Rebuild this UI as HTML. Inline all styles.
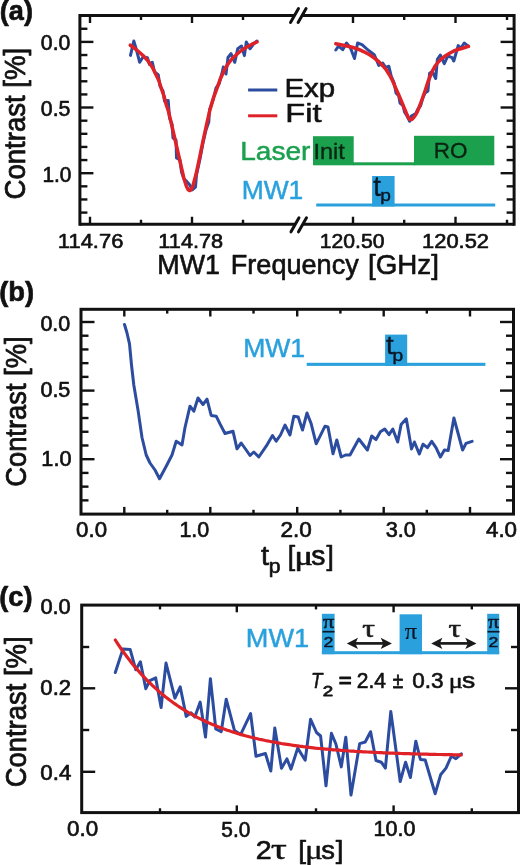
<!DOCTYPE html>
<html><head><meta charset="utf-8"><title>figure</title>
<style>html,body{margin:0;padding:0;background:#fff}svg{display:block;filter:blur(0.4px)}</style></head>
<body>
<svg width="520" height="865" viewBox="0 0 520 865">
<rect width="520" height="865" fill="#fff"/>
<polyline points="130.5,55.4 133.8,41.0 136.5,50.0 139.7,62.3 143.0,57.0 147.4,57.7 149.5,64.5 152.3,62.3 154.6,72.0 158.2,74.6 160.0,86.0 163.0,91.0 164.5,101.0 168.2,100.4 169.5,118.0 172.0,124.0 173.0,138.0 176.0,140.0 176.5,158.0 180.0,160.0 181.5,172.0 184.0,179.0 186.3,181.0 189.8,185.0 192.0,190.0 195.5,187.0 196.5,175.0 199.8,160.0 203.0,143.0 206.0,130.0 208.8,122.0 209.5,110.0 213.0,100.0 216.0,88.0 219.0,84.0 222.3,72.0 223.3,67.0 226.0,74.0 228.0,57.5 231.0,53.7 234.8,62.3 237.7,48.8 241.5,46.0 244.4,55.6 246.3,42.0 250.0,48.8 253.5,44.0 257.0,41.0" fill="none" stroke="#2c4ca0" stroke-width="3.0" stroke-linejoin="round" stroke-linecap="round"/>
<polyline points="130.3,45.2 134.0,47.8 138.5,51.5 143.0,55.5 147.7,60.5 152.5,67.5 155.4,73.5 158.8,80.5 161.5,89.0 163.8,95.5 166.2,104.5 168.5,111.5 171.6,124.6 176.0,143.7 180.3,162.7 183.7,177.5 186.3,186.0 188.0,189.5 189.5,190.6 191.0,189.8 192.9,186.0 195.9,174.8 199.3,159.2 202.8,141.9 206.2,126.3 209.7,110.8 213.2,98.7 216.6,89.5 220.4,78.7 225.0,68.7 228.0,64.0 232.0,58.8 237.7,53.5 242.0,50.0 247.3,46.8 252.0,44.2 257.0,42.0" fill="none" stroke="#de2228" stroke-width="3.5" stroke-linejoin="round" stroke-linecap="round"/>
<polyline points="335.8,50.0 338.5,46.2 342.7,49.7 346.5,43.0 350.4,47.7 354.5,58.5 357.6,43.0 362.0,44.6 368.0,50.0 374.2,54.6 378.8,65.4 382.7,63.0 385.8,67.7 388.8,66.2 391.2,76.2 394.2,83.0 396.0,93.0 398.8,96.0 400.0,103.0 403.0,105.5 404.5,112.0 407.0,116.0 409.7,121.2 411.4,116.0 415.8,113.5 418.0,109.0 420.5,106.0 422.5,99.0 425.0,93.0 427.9,91.0 429.6,73.3 432.2,71.5 435.7,78.5 437.4,59.4 440.3,55.0 444.3,63.7 447.8,56.0 452.1,57.7 453.8,61.0 458.2,45.6 460.8,48.2 464.2,43.0 468.5,46.4" fill="none" stroke="#2c4ca0" stroke-width="3.0" stroke-linejoin="round" stroke-linecap="round"/>
<polyline points="335.8,43.8 342.0,45.0 348.0,46.2 353.0,47.5 358.8,49.4 364.0,51.8 369.6,54.8 374.0,57.8 378.8,61.7 383.0,66.0 386.5,70.2 389.5,75.0 392.7,81.0 395.4,87.5 398.8,95.0 401.5,101.5 404.0,107.5 406.5,113.5 408.5,117.8 410.0,119.6 411.8,119.4 413.5,117.8 415.5,115.0 417.5,111.3 420.0,105.0 422.7,97.5 425.5,89.5 427.9,82.0 430.5,75.5 433.0,69.8 435.5,65.5 438.3,62.0 441.5,58.8 445.2,56.0 449.2,53.5 453.8,51.0 458.0,49.5 462.5,48.2 468.5,46.4" fill="none" stroke="#de2228" stroke-width="3.5" stroke-linejoin="round" stroke-linecap="round"/>
<line x1="79.90" y1="14.00" x2="79.90" y2="225.75" stroke="#111" stroke-width="3.0" stroke-linecap="butt"/>
<line x1="514.10" y1="14.00" x2="514.10" y2="225.75" stroke="#111" stroke-width="3.0" stroke-linecap="butt"/>
<line x1="79.90" y1="15.50" x2="294.50" y2="15.50" stroke="#111" stroke-width="3.0" stroke-linecap="butt"/>
<line x1="302.10" y1="15.50" x2="514.10" y2="15.50" stroke="#111" stroke-width="3.0" stroke-linecap="butt"/>
<line x1="290.50" y1="22.50" x2="298.50" y2="8.50" stroke="#111" stroke-width="3.0" stroke-linecap="round"/>
<line x1="298.10" y1="22.50" x2="306.10" y2="8.50" stroke="#111" stroke-width="3.0" stroke-linecap="round"/>
<line x1="79.90" y1="224.25" x2="295.00" y2="224.25" stroke="#111" stroke-width="3.0" stroke-linecap="butt"/>
<line x1="302.50" y1="224.25" x2="514.10" y2="224.25" stroke="#111" stroke-width="3.0" stroke-linecap="butt"/>
<line x1="291.00" y1="231.85" x2="299.00" y2="217.85" stroke="#111" stroke-width="3.0" stroke-linecap="round"/>
<line x1="298.50" y1="231.85" x2="306.50" y2="217.85" stroke="#111" stroke-width="3.0" stroke-linecap="round"/>
<line x1="90.00" y1="15.50" x2="90.00" y2="23.00" stroke="#111" stroke-width="2.4" stroke-linecap="butt"/>
<line x1="90.00" y1="224.25" x2="90.00" y2="216.75" stroke="#111" stroke-width="2.4" stroke-linecap="butt"/>
<line x1="192.00" y1="15.50" x2="192.00" y2="23.00" stroke="#111" stroke-width="2.4" stroke-linecap="butt"/>
<line x1="192.00" y1="224.25" x2="192.00" y2="216.75" stroke="#111" stroke-width="2.4" stroke-linecap="butt"/>
<line x1="353.00" y1="15.50" x2="353.00" y2="23.00" stroke="#111" stroke-width="2.4" stroke-linecap="butt"/>
<line x1="353.00" y1="224.25" x2="353.00" y2="216.75" stroke="#111" stroke-width="2.4" stroke-linecap="butt"/>
<line x1="455.50" y1="15.50" x2="455.50" y2="23.00" stroke="#111" stroke-width="2.4" stroke-linecap="butt"/>
<line x1="455.50" y1="224.25" x2="455.50" y2="216.75" stroke="#111" stroke-width="2.4" stroke-linecap="butt"/>
<line x1="141.00" y1="15.50" x2="141.00" y2="20.00" stroke="#111" stroke-width="2.4" stroke-linecap="butt"/>
<line x1="141.00" y1="224.25" x2="141.00" y2="219.75" stroke="#111" stroke-width="2.4" stroke-linecap="butt"/>
<line x1="243.00" y1="15.50" x2="243.00" y2="20.00" stroke="#111" stroke-width="2.4" stroke-linecap="butt"/>
<line x1="243.00" y1="224.25" x2="243.00" y2="219.75" stroke="#111" stroke-width="2.4" stroke-linecap="butt"/>
<line x1="404.20" y1="15.50" x2="404.20" y2="20.00" stroke="#111" stroke-width="2.4" stroke-linecap="butt"/>
<line x1="404.20" y1="224.25" x2="404.20" y2="219.75" stroke="#111" stroke-width="2.4" stroke-linecap="butt"/>
<line x1="507.00" y1="15.50" x2="507.00" y2="20.00" stroke="#111" stroke-width="2.4" stroke-linecap="butt"/>
<line x1="507.00" y1="224.25" x2="507.00" y2="219.75" stroke="#111" stroke-width="2.4" stroke-linecap="butt"/>
<line x1="79.90" y1="41.90" x2="93.40" y2="41.90" stroke="#111" stroke-width="2.4" stroke-linecap="butt"/>
<line x1="514.10" y1="41.90" x2="500.60" y2="41.90" stroke="#111" stroke-width="2.4" stroke-linecap="butt"/>
<line x1="79.90" y1="107.50" x2="93.40" y2="107.50" stroke="#111" stroke-width="2.4" stroke-linecap="butt"/>
<line x1="514.10" y1="107.50" x2="500.60" y2="107.50" stroke="#111" stroke-width="2.4" stroke-linecap="butt"/>
<line x1="79.90" y1="173.20" x2="93.40" y2="173.20" stroke="#111" stroke-width="2.4" stroke-linecap="butt"/>
<line x1="514.10" y1="173.20" x2="500.60" y2="173.20" stroke="#111" stroke-width="2.4" stroke-linecap="butt"/>
<line x1="79.90" y1="28.77" x2="87.40" y2="28.77" stroke="#111" stroke-width="2.4" stroke-linecap="butt"/>
<line x1="514.10" y1="28.77" x2="506.60" y2="28.77" stroke="#111" stroke-width="2.4" stroke-linecap="butt"/>
<line x1="79.90" y1="55.03" x2="87.40" y2="55.03" stroke="#111" stroke-width="2.4" stroke-linecap="butt"/>
<line x1="514.10" y1="55.03" x2="506.60" y2="55.03" stroke="#111" stroke-width="2.4" stroke-linecap="butt"/>
<line x1="79.90" y1="68.16" x2="87.40" y2="68.16" stroke="#111" stroke-width="2.4" stroke-linecap="butt"/>
<line x1="514.10" y1="68.16" x2="506.60" y2="68.16" stroke="#111" stroke-width="2.4" stroke-linecap="butt"/>
<line x1="79.90" y1="81.29" x2="87.40" y2="81.29" stroke="#111" stroke-width="2.4" stroke-linecap="butt"/>
<line x1="514.10" y1="81.29" x2="506.60" y2="81.29" stroke="#111" stroke-width="2.4" stroke-linecap="butt"/>
<line x1="79.90" y1="94.42" x2="87.40" y2="94.42" stroke="#111" stroke-width="2.4" stroke-linecap="butt"/>
<line x1="514.10" y1="94.42" x2="506.60" y2="94.42" stroke="#111" stroke-width="2.4" stroke-linecap="butt"/>
<line x1="79.90" y1="120.68" x2="87.40" y2="120.68" stroke="#111" stroke-width="2.4" stroke-linecap="butt"/>
<line x1="514.10" y1="120.68" x2="506.60" y2="120.68" stroke="#111" stroke-width="2.4" stroke-linecap="butt"/>
<line x1="79.90" y1="133.81" x2="87.40" y2="133.81" stroke="#111" stroke-width="2.4" stroke-linecap="butt"/>
<line x1="514.10" y1="133.81" x2="506.60" y2="133.81" stroke="#111" stroke-width="2.4" stroke-linecap="butt"/>
<line x1="79.90" y1="146.94" x2="87.40" y2="146.94" stroke="#111" stroke-width="2.4" stroke-linecap="butt"/>
<line x1="514.10" y1="146.94" x2="506.60" y2="146.94" stroke="#111" stroke-width="2.4" stroke-linecap="butt"/>
<line x1="79.90" y1="160.07" x2="87.40" y2="160.07" stroke="#111" stroke-width="2.4" stroke-linecap="butt"/>
<line x1="514.10" y1="160.07" x2="506.60" y2="160.07" stroke="#111" stroke-width="2.4" stroke-linecap="butt"/>
<line x1="79.90" y1="186.33" x2="87.40" y2="186.33" stroke="#111" stroke-width="2.4" stroke-linecap="butt"/>
<line x1="514.10" y1="186.33" x2="506.60" y2="186.33" stroke="#111" stroke-width="2.4" stroke-linecap="butt"/>
<line x1="79.90" y1="199.46" x2="87.40" y2="199.46" stroke="#111" stroke-width="2.4" stroke-linecap="butt"/>
<line x1="514.10" y1="199.46" x2="506.60" y2="199.46" stroke="#111" stroke-width="2.4" stroke-linecap="butt"/>
<line x1="79.90" y1="212.59" x2="87.40" y2="212.59" stroke="#111" stroke-width="2.4" stroke-linecap="butt"/>
<line x1="514.10" y1="212.59" x2="506.60" y2="212.59" stroke="#111" stroke-width="2.4" stroke-linecap="butt"/>
<text transform="translate(40.85,50.20) scale(0.9961,1.0000)" font-family='"Liberation Sans", sans-serif' font-size="21.3" fill="#111" stroke="#111" stroke-width="0.65" stroke-linejoin="round">0.0</text>
<text transform="translate(40.85,116.00) scale(0.9999,1.0000)" font-family='"Liberation Sans", sans-serif' font-size="21.3" fill="#111" stroke="#111" stroke-width="0.65" stroke-linejoin="round">0.5</text>
<text transform="translate(42.43,181.80) scale(0.9811,1.0000)" font-family='"Liberation Sans", sans-serif' font-size="21.3" fill="#111" stroke="#111" stroke-width="0.65" stroke-linejoin="round">1.0</text>
<text transform="translate(57.85,247.50) scale(1.0553,1.0000)" font-family='"Liberation Sans", sans-serif' font-size="20.8" fill="#111" stroke="#111" stroke-width="0.65" stroke-linejoin="round">114.76</text>
<text transform="translate(158.37,247.50) scale(1.0436,1.0000)" font-family='"Liberation Sans", sans-serif' font-size="20.8" fill="#111" stroke="#111" stroke-width="0.65" stroke-linejoin="round">114.78</text>
<text transform="translate(319.66,247.50) scale(1.0186,1.0000)" font-family='"Liberation Sans", sans-serif' font-size="20.8" fill="#111" stroke="#111" stroke-width="0.65" stroke-linejoin="round">120.50</text>
<text transform="translate(422.11,247.50) scale(1.0525,1.0000)" font-family='"Liberation Sans", sans-serif' font-size="20.8" fill="#111" stroke="#111" stroke-width="0.65" stroke-linejoin="round">120.52</text>
<text transform="translate(157.35,274.10) scale(0.9589,1.0000)" font-family='"Liberation Sans", sans-serif' font-size="28" fill="#111" stroke="#111" stroke-width="0.65" stroke-linejoin="round">MW1</text>
<text transform="translate(230.83,274.10) scale(0.9669,1.0000)" font-family='"Liberation Sans", sans-serif' font-size="28" fill="#111" stroke="#111" stroke-width="0.65" stroke-linejoin="round">Frequency</text>
<text transform="translate(368.06,274.10) scale(0.9908,1.0000)" font-family='"Liberation Sans", sans-serif' font-size="28" fill="#111" stroke="#111" stroke-width="0.65" stroke-linejoin="round">[GHz]</text>
<text transform="translate(24.90,199.48) rotate(-90) scale(1.0209,1.0700)" font-family='"Liberation Sans", sans-serif' font-size="27" fill="#111" stroke="#111" stroke-width="0.75" stroke-linejoin="round">Contrast [%]</text>
<text transform="translate(-0.16,20.20) scale(0.9859,1.0000)" font-family='"Liberation Sans", sans-serif' font-size="27.5" fill="#111" stroke="#111" stroke-width="0.65" stroke-linejoin="round" font-weight="bold">(a)</text>
<line x1="248.10" y1="90.00" x2="277.30" y2="90.00" stroke="#2c4ca0" stroke-width="3.0" stroke-linecap="butt"/>
<line x1="248.10" y1="115.80" x2="277.30" y2="115.80" stroke="#de2228" stroke-width="3.0" stroke-linecap="butt"/>
<text transform="translate(284.44,96.70) scale(1.1346,1.0000)" font-family='"Liberation Sans", sans-serif' font-size="26" fill="#111" stroke="#111" stroke-width="0.55" stroke-linejoin="round">Exp</text>
<text transform="translate(285.29,121.70) scale(1.2533,1.0000)" font-family='"Liberation Sans", sans-serif' font-size="26" fill="#111" stroke="#111" stroke-width="0.55" stroke-linejoin="round">Fit</text>
<text transform="translate(240.25,159.50) scale(1.0591,1.0000)" font-family='"Liberation Sans", sans-serif' font-size="26.5" fill="#1ba04e" stroke="#1ba04e" stroke-width="0.5" stroke-linejoin="round">Laser</text>
<text transform="translate(241.64,199.25) scale(0.9969,1.0000)" font-family='"Liberation Sans", sans-serif' font-size="26.5" fill="#2aa1dc" stroke="#2aa1dc" stroke-width="0.5" stroke-linejoin="round">MW1</text>
<rect x="313.00" y="136.20" width="40.70" height="29.10" fill="#1ba04e"/>
<rect x="414.00" y="135.80" width="80.30" height="29.50" fill="#1ba04e"/>
<rect x="353.00" y="162.30" width="62.00" height="3.00" fill="#1ba04e"/>
<text transform="translate(313.39,158.75) scale(1.0436,1.0000)" font-family='"Liberation Sans", sans-serif' font-size="22.5" fill="#0b2412" stroke="#0b2412" stroke-width="0.35" stroke-linejoin="round">Init</text>
<text transform="translate(433.70,158.20) scale(1.0457,1.0000)" font-family='"Liberation Sans", sans-serif' font-size="21.5" fill="#0b2412" stroke="#0b2412" stroke-width="0.35" stroke-linejoin="round">RO</text>
<rect x="316.25" y="203.50" width="178.95" height="3.00" fill="#2aa1dc"/>
<rect x="372.10" y="176.00" width="22.50" height="30.50" fill="#2aa1dc"/>
<text transform="translate(373.29,195.90) scale(1.0240,1.0000)" font-family='"Liberation Sans", sans-serif' font-size="27" fill="#0a1626" stroke="#0a1626" stroke-width="0.4" stroke-linejoin="round">t</text>
<text transform="translate(380.26,201.40) scale(1.1376,1.0000)" font-family='"Liberation Sans", sans-serif' font-size="16.8" fill="#0a1626" stroke="#0a1626" stroke-width="0.4" stroke-linejoin="round">p</text>
<polyline points="124.5,324.5 127.0,333.0 129.5,343.8 131.5,365.0 133.8,385.0 138.0,410.0 142.0,437.5 146.2,455.0 150.0,463.0 155.0,470.0 159.5,478.8 166.2,466.2 172.0,455.0 176.2,441.2 182.0,445.0 185.0,427.5 190.0,406.2 193.8,411.2 198.0,398.0 203.0,404.5 207.0,399.2 211.2,415.5 216.2,416.2 220.0,423.8 225.0,433.5 233.0,431.2 237.0,448.8 241.2,443.0 246.2,450.0 250.0,455.5 253.8,452.0 258.8,457.0 266.2,446.2 272.5,435.5 276.2,441.2 280.5,435.0 285.0,425.0 290.0,435.0 293.8,416.2 298.2,417.0 302.5,430.0 307.0,413.0 311.2,423.8 316.2,443.8 321.2,433.8 325.0,426.2 328.0,427.0 333.0,453.8 336.8,440.0 341.2,457.0 345.5,455.0 350.0,455.0 358.8,439.0 367.4,450.0 371.7,436.0 376.0,439.6 380.4,431.8 384.7,429.0 389.0,434.7 392.8,429.0 397.7,442.0 401.1,424.6 406.3,418.8 411.5,449.0 414.4,442.0 419.3,454.0 423.0,444.2 427.4,447.7 431.7,441.3 436.0,447.7 440.4,457.0 444.4,450.0 448.2,450.6 453.9,418.0 462.6,450.0 466.0,443.4 472.1,441.3" fill="none" stroke="#2c4ca0" stroke-width="3.0" stroke-linejoin="round" stroke-linecap="round"/>
<rect x="81" y="309.3" width="432.5" height="204.8" fill="none" stroke="#111" stroke-width="3.0"/>
<line x1="124.30" y1="309.30" x2="124.30" y2="316.50" stroke="#111" stroke-width="2.4" stroke-linecap="butt"/>
<line x1="124.30" y1="514.10" x2="124.30" y2="506.90" stroke="#111" stroke-width="2.4" stroke-linecap="butt"/>
<line x1="210.30" y1="309.30" x2="210.30" y2="316.50" stroke="#111" stroke-width="2.4" stroke-linecap="butt"/>
<line x1="210.30" y1="514.10" x2="210.30" y2="506.90" stroke="#111" stroke-width="2.4" stroke-linecap="butt"/>
<line x1="297.20" y1="309.30" x2="297.20" y2="316.50" stroke="#111" stroke-width="2.4" stroke-linecap="butt"/>
<line x1="297.20" y1="514.10" x2="297.20" y2="506.90" stroke="#111" stroke-width="2.4" stroke-linecap="butt"/>
<line x1="383.70" y1="309.30" x2="383.70" y2="316.50" stroke="#111" stroke-width="2.4" stroke-linecap="butt"/>
<line x1="383.70" y1="514.10" x2="383.70" y2="506.90" stroke="#111" stroke-width="2.4" stroke-linecap="butt"/>
<line x1="470.00" y1="309.30" x2="470.00" y2="316.50" stroke="#111" stroke-width="2.4" stroke-linecap="butt"/>
<line x1="470.00" y1="514.10" x2="470.00" y2="506.90" stroke="#111" stroke-width="2.4" stroke-linecap="butt"/>
<line x1="167.20" y1="309.30" x2="167.20" y2="313.60" stroke="#111" stroke-width="2.4" stroke-linecap="butt"/>
<line x1="167.20" y1="514.10" x2="167.20" y2="509.80" stroke="#111" stroke-width="2.4" stroke-linecap="butt"/>
<line x1="253.50" y1="309.30" x2="253.50" y2="313.60" stroke="#111" stroke-width="2.4" stroke-linecap="butt"/>
<line x1="253.50" y1="514.10" x2="253.50" y2="509.80" stroke="#111" stroke-width="2.4" stroke-linecap="butt"/>
<line x1="340.40" y1="309.30" x2="340.40" y2="313.60" stroke="#111" stroke-width="2.4" stroke-linecap="butt"/>
<line x1="340.40" y1="514.10" x2="340.40" y2="509.80" stroke="#111" stroke-width="2.4" stroke-linecap="butt"/>
<line x1="426.80" y1="309.30" x2="426.80" y2="313.60" stroke="#111" stroke-width="2.4" stroke-linecap="butt"/>
<line x1="426.80" y1="514.10" x2="426.80" y2="509.80" stroke="#111" stroke-width="2.4" stroke-linecap="butt"/>
<line x1="81.00" y1="322.00" x2="94.50" y2="322.00" stroke="#111" stroke-width="2.4" stroke-linecap="butt"/>
<line x1="513.50" y1="322.00" x2="500.00" y2="322.00" stroke="#111" stroke-width="2.4" stroke-linecap="butt"/>
<line x1="81.00" y1="390.60" x2="94.50" y2="390.60" stroke="#111" stroke-width="2.4" stroke-linecap="butt"/>
<line x1="513.50" y1="390.60" x2="500.00" y2="390.60" stroke="#111" stroke-width="2.4" stroke-linecap="butt"/>
<line x1="81.00" y1="459.20" x2="94.50" y2="459.20" stroke="#111" stroke-width="2.4" stroke-linecap="butt"/>
<line x1="513.50" y1="459.20" x2="500.00" y2="459.20" stroke="#111" stroke-width="2.4" stroke-linecap="butt"/>
<line x1="81.00" y1="335.72" x2="88.50" y2="335.72" stroke="#111" stroke-width="2.4" stroke-linecap="butt"/>
<line x1="513.50" y1="335.72" x2="506.00" y2="335.72" stroke="#111" stroke-width="2.4" stroke-linecap="butt"/>
<line x1="81.00" y1="349.44" x2="88.50" y2="349.44" stroke="#111" stroke-width="2.4" stroke-linecap="butt"/>
<line x1="513.50" y1="349.44" x2="506.00" y2="349.44" stroke="#111" stroke-width="2.4" stroke-linecap="butt"/>
<line x1="81.00" y1="363.16" x2="88.50" y2="363.16" stroke="#111" stroke-width="2.4" stroke-linecap="butt"/>
<line x1="513.50" y1="363.16" x2="506.00" y2="363.16" stroke="#111" stroke-width="2.4" stroke-linecap="butt"/>
<line x1="81.00" y1="376.88" x2="88.50" y2="376.88" stroke="#111" stroke-width="2.4" stroke-linecap="butt"/>
<line x1="513.50" y1="376.88" x2="506.00" y2="376.88" stroke="#111" stroke-width="2.4" stroke-linecap="butt"/>
<line x1="81.00" y1="404.32" x2="88.50" y2="404.32" stroke="#111" stroke-width="2.4" stroke-linecap="butt"/>
<line x1="513.50" y1="404.32" x2="506.00" y2="404.32" stroke="#111" stroke-width="2.4" stroke-linecap="butt"/>
<line x1="81.00" y1="418.04" x2="88.50" y2="418.04" stroke="#111" stroke-width="2.4" stroke-linecap="butt"/>
<line x1="513.50" y1="418.04" x2="506.00" y2="418.04" stroke="#111" stroke-width="2.4" stroke-linecap="butt"/>
<line x1="81.00" y1="431.76" x2="88.50" y2="431.76" stroke="#111" stroke-width="2.4" stroke-linecap="butt"/>
<line x1="513.50" y1="431.76" x2="506.00" y2="431.76" stroke="#111" stroke-width="2.4" stroke-linecap="butt"/>
<line x1="81.00" y1="445.48" x2="88.50" y2="445.48" stroke="#111" stroke-width="2.4" stroke-linecap="butt"/>
<line x1="513.50" y1="445.48" x2="506.00" y2="445.48" stroke="#111" stroke-width="2.4" stroke-linecap="butt"/>
<line x1="81.00" y1="472.92" x2="88.50" y2="472.92" stroke="#111" stroke-width="2.4" stroke-linecap="butt"/>
<line x1="513.50" y1="472.92" x2="506.00" y2="472.92" stroke="#111" stroke-width="2.4" stroke-linecap="butt"/>
<line x1="81.00" y1="486.64" x2="88.50" y2="486.64" stroke="#111" stroke-width="2.4" stroke-linecap="butt"/>
<line x1="513.50" y1="486.64" x2="506.00" y2="486.64" stroke="#111" stroke-width="2.4" stroke-linecap="butt"/>
<line x1="81.00" y1="500.36" x2="88.50" y2="500.36" stroke="#111" stroke-width="2.4" stroke-linecap="butt"/>
<line x1="513.50" y1="500.36" x2="506.00" y2="500.36" stroke="#111" stroke-width="2.4" stroke-linecap="butt"/>
<text transform="translate(40.39,331.20) scale(1.0086,1.0000)" font-family='"Liberation Sans", sans-serif' font-size="21.3" fill="#111" stroke="#111" stroke-width="0.65" stroke-linejoin="round">0.0</text>
<text transform="translate(40.39,397.40) scale(1.0124,1.0000)" font-family='"Liberation Sans", sans-serif' font-size="21.3" fill="#111" stroke="#111" stroke-width="0.65" stroke-linejoin="round">0.5</text>
<text transform="translate(41.37,466.20) scale(1.0178,1.0000)" font-family='"Liberation Sans", sans-serif' font-size="21.3" fill="#111" stroke="#111" stroke-width="0.65" stroke-linejoin="round">1.0</text>
<text transform="translate(76.11,536.80) scale(1.0443,1.0000)" font-family='"Liberation Sans", sans-serif' font-size="21.3" fill="#111" stroke="#111" stroke-width="0.65" stroke-linejoin="round">0.0</text>
<text transform="translate(179.39,536.80) scale(1.0087,1.0000)" font-family='"Liberation Sans", sans-serif' font-size="21.3" fill="#111" stroke="#111" stroke-width="0.65" stroke-linejoin="round">1.0</text>
<text transform="translate(280.47,536.80) scale(1.0577,1.0000)" font-family='"Liberation Sans", sans-serif' font-size="21.3" fill="#111" stroke="#111" stroke-width="0.65" stroke-linejoin="round">2.0</text>
<text transform="translate(385.73,536.80) scale(1.0175,1.0000)" font-family='"Liberation Sans", sans-serif' font-size="21.3" fill="#111" stroke="#111" stroke-width="0.65" stroke-linejoin="round">3.0</text>
<text transform="translate(485.95,536.80) scale(1.0515,1.0000)" font-family='"Liberation Sans", sans-serif' font-size="21.3" fill="#111" stroke="#111" stroke-width="0.65" stroke-linejoin="round">4.0</text>
<text transform="translate(261.06,564.50) scale(1.0748,1.0000)" font-family='"Liberation Sans", sans-serif' font-size="27" fill="#111" stroke="#111" stroke-width="0.65" stroke-linejoin="round">t</text>
<text transform="translate(268.63,572.80) scale(1.0053,1.0000)" font-family='"Liberation Sans", sans-serif' font-size="21" fill="#111" stroke="#111" stroke-width="0.65" stroke-linejoin="round">p</text>
<text transform="translate(287.84,564.60) scale(0.9815,1.0000)" font-family='"Liberation Sans", sans-serif' font-size="27" fill="#111" stroke="#111" stroke-width="0.65" stroke-linejoin="round">[</text>
<text transform="translate(294.46,564.60) scale(1.2673,1.0000)" font-family='"Liberation Serif", serif' font-size="27" fill="#111" stroke="#111" stroke-width="0.65" stroke-linejoin="round">μ</text>
<text transform="translate(311.35,564.60) scale(1.0473,1.0000)" font-family='"Liberation Sans", sans-serif' font-size="27" fill="#111" stroke="#111" stroke-width="0.65" stroke-linejoin="round">s</text>
<text transform="translate(326.47,564.60) scale(0.9630,1.0000)" font-family='"Liberation Sans", sans-serif' font-size="27" fill="#111" stroke="#111" stroke-width="0.65" stroke-linejoin="round">]</text>
<text transform="translate(25.60,486.77) rotate(-90) scale(1.0127,1.0800)" font-family='"Liberation Sans", sans-serif' font-size="27" fill="#111" stroke="#111" stroke-width="0.75" stroke-linejoin="round">Contrast [%]</text>
<text transform="translate(-0.77,301.00) scale(0.9954,1.0000)" font-family='"Liberation Sans", sans-serif' font-size="27.5" fill="#111" stroke="#111" stroke-width="0.65" stroke-linejoin="round" font-weight="bold">(b)</text>
<text transform="translate(243.17,357.20) scale(1.0029,1.0000)" font-family='"Liberation Sans", sans-serif' font-size="26.5" fill="#2aa1dc" stroke="#2aa1dc" stroke-width="0.5" stroke-linejoin="round">MW1</text>
<rect x="306.70" y="362.80" width="178.70" height="3.10" fill="#2aa1dc"/>
<rect x="385.10" y="334.60" width="22.10" height="31.30" fill="#2aa1dc"/>
<text transform="translate(385.89,353.90) scale(1.0359,1.0000)" font-family='"Liberation Sans", sans-serif' font-size="26.5" fill="#0a1626" stroke="#0a1626" stroke-width="0.4" stroke-linejoin="round">t</text>
<text transform="translate(392.50,360.80) scale(1.1442,1.0000)" font-family='"Liberation Sans", sans-serif' font-size="16.8" fill="#0a1626" stroke="#0a1626" stroke-width="0.4" stroke-linejoin="round">p</text>
<polyline points="115.3,672.5 122.9,649.1 130.2,649.6 135.8,669.8 140.4,661.7 145.8,688.7 149.8,680.6 155.7,677.9 161.1,707.5 166.0,663.1 174.9,698.1 180.2,686.8 186.2,716.4 191.0,712.9 194.8,716.9 200.2,702.1 205.5,737.1 210.4,678.7 215.8,729.0 221.2,731.7 226.2,699.2 234.5,730.6 240.6,734.6 250.6,713.6 256.0,756.2 265.4,753.5 270.8,771.0 274.8,727.9 281.5,768.3 286.9,758.9 291.0,769.1 297.7,748.1 305.2,760.2 310.6,719.3 316.5,732.5 320.6,736.0 326.0,785.8 331.4,733.3 335.9,744.0 341.3,766.9 345.8,737.2 351.0,795.1 359.7,743.6 365.2,742.0 370.6,731.7 376.0,760.5 381.3,762.2 385.4,768.1 390.8,711.5 400.2,781.5 405.6,762.2 410.4,777.5 415.8,741.2 420.4,759.5 425.2,760.0 435.2,793.7 440.6,774.8 446.0,768.1 451.4,756.0 455.9,758.7 461.3,753.8" fill="none" stroke="#2c4ca0" stroke-width="3.0" stroke-linejoin="round" stroke-linecap="round"/>
<polyline points="115.3,640.0 117.3,643.1 119.3,646.1 121.3,649.0 123.3,651.8 125.3,654.6 127.3,657.2 129.3,659.8 131.3,662.4 133.3,664.9 135.3,667.3 137.3,669.6 139.3,671.9 141.3,674.1 143.3,676.3 145.3,678.4 147.3,680.5 149.3,682.5 151.3,684.4 153.3,686.3 155.3,688.1 157.3,689.9 159.3,691.7 161.3,693.4 163.3,695.0 165.3,696.7 167.3,698.2 169.3,699.8 171.3,701.2 173.3,702.7 175.3,704.1 177.3,705.5 179.3,706.8 181.3,708.1 183.3,709.4 185.3,710.6 187.3,711.8 189.3,713.0 191.3,714.1 193.3,715.2 195.3,716.3 197.3,717.4 199.3,718.4 201.3,719.4 203.3,720.3 205.3,721.3 207.3,722.2 209.3,723.1 211.3,724.0 213.3,724.8 215.3,725.6 217.3,726.4 219.3,727.2 221.3,728.0 223.3,728.7 225.3,729.4 227.3,730.2 229.3,730.8 231.3,731.5 233.3,732.1 235.3,732.8 237.3,733.4 239.3,734.0 241.3,734.6 243.3,735.1 245.3,735.7 247.3,736.2 249.3,736.8 251.3,737.3 253.3,737.8 255.3,738.2 257.3,738.7 259.3,739.2 261.3,739.6 263.3,740.0 265.3,740.5 267.3,740.9 269.3,741.3 271.3,741.7 273.3,742.0 275.3,742.4 277.3,742.8 279.3,743.1 281.3,743.5 283.3,743.8 285.3,744.1 287.3,744.4 289.3,744.7 291.3,745.0 293.3,745.3 295.3,745.6 297.3,745.9 299.3,746.2 301.3,746.4 303.3,746.7 305.3,746.9 307.3,747.2 309.3,747.4 311.3,747.6 313.3,747.8 315.3,748.1 317.3,748.3 319.3,748.5 321.3,748.7 323.3,748.9 325.3,749.1 327.3,749.2 329.3,749.4 331.3,749.6 333.3,749.8 335.3,749.9 337.3,750.1 339.3,750.2 341.3,750.4 343.3,750.5 345.3,750.7 347.3,750.8 349.3,751.0 351.3,751.1 353.3,751.2 355.3,751.4 357.3,751.5 359.3,751.6 361.3,751.7 363.3,751.8 365.3,751.9 367.3,752.0 369.3,752.1 371.3,752.2 373.3,752.3 375.3,752.4 377.3,752.5 379.3,752.6 381.3,752.7 383.3,752.8 385.3,752.9 387.3,753.0 389.3,753.1 391.3,753.1 393.3,753.2 395.3,753.3 397.3,753.4 399.3,753.4 401.3,753.5 403.3,753.6 405.3,753.6 407.3,753.7 409.3,753.7 411.3,753.8 413.3,753.9 415.3,753.9 417.3,754.0 419.3,754.0 421.3,754.1 423.3,754.1 425.3,754.2 427.3,754.2 429.3,754.3 431.3,754.3 433.3,754.4 435.3,754.4 437.3,754.5 439.3,754.5 441.3,754.5 443.3,754.6 445.3,754.6 447.3,754.6 449.3,754.7 451.3,754.7 453.3,754.8 455.3,754.8 457.3,754.8 459.3,754.8 461.3,754.9" fill="none" stroke="#de2228" stroke-width="3.2" stroke-linejoin="round" stroke-linecap="round"/>
<rect x="81.7" y="605.1" width="436.8" height="207.5" fill="none" stroke="#111" stroke-width="3.0"/>
<line x1="236.80" y1="605.10" x2="236.80" y2="612.30" stroke="#111" stroke-width="2.4" stroke-linecap="butt"/>
<line x1="236.80" y1="812.60" x2="236.80" y2="805.40" stroke="#111" stroke-width="2.4" stroke-linecap="butt"/>
<line x1="393.60" y1="605.10" x2="393.60" y2="612.30" stroke="#111" stroke-width="2.4" stroke-linecap="butt"/>
<line x1="393.60" y1="812.60" x2="393.60" y2="805.40" stroke="#111" stroke-width="2.4" stroke-linecap="butt"/>
<line x1="160.00" y1="605.10" x2="160.00" y2="609.40" stroke="#111" stroke-width="2.4" stroke-linecap="butt"/>
<line x1="160.00" y1="812.60" x2="160.00" y2="808.30" stroke="#111" stroke-width="2.4" stroke-linecap="butt"/>
<line x1="316.00" y1="605.10" x2="316.00" y2="609.40" stroke="#111" stroke-width="2.4" stroke-linecap="butt"/>
<line x1="316.00" y1="812.60" x2="316.00" y2="808.30" stroke="#111" stroke-width="2.4" stroke-linecap="butt"/>
<line x1="471.80" y1="605.10" x2="471.80" y2="609.40" stroke="#111" stroke-width="2.4" stroke-linecap="butt"/>
<line x1="471.80" y1="812.60" x2="471.80" y2="808.30" stroke="#111" stroke-width="2.4" stroke-linecap="butt"/>
<line x1="81.70" y1="688.30" x2="95.20" y2="688.30" stroke="#111" stroke-width="2.4" stroke-linecap="butt"/>
<line x1="518.50" y1="688.30" x2="505.00" y2="688.30" stroke="#111" stroke-width="2.4" stroke-linecap="butt"/>
<line x1="81.70" y1="771.80" x2="95.20" y2="771.80" stroke="#111" stroke-width="2.4" stroke-linecap="butt"/>
<line x1="518.50" y1="771.80" x2="505.00" y2="771.80" stroke="#111" stroke-width="2.4" stroke-linecap="butt"/>
<line x1="81.70" y1="647.00" x2="89.20" y2="647.00" stroke="#111" stroke-width="2.4" stroke-linecap="butt"/>
<line x1="518.50" y1="647.00" x2="511.00" y2="647.00" stroke="#111" stroke-width="2.4" stroke-linecap="butt"/>
<line x1="81.70" y1="730.00" x2="89.20" y2="730.00" stroke="#111" stroke-width="2.4" stroke-linecap="butt"/>
<line x1="518.50" y1="730.00" x2="511.00" y2="730.00" stroke="#111" stroke-width="2.4" stroke-linecap="butt"/>
<text transform="translate(40.38,613.70) scale(1.0264,1.0000)" font-family='"Liberation Sans", sans-serif' font-size="21.3" fill="#111" stroke="#111" stroke-width="0.65" stroke-linejoin="round">0.0</text>
<text transform="translate(40.37,695.20) scale(1.0383,1.0000)" font-family='"Liberation Sans", sans-serif' font-size="21.3" fill="#111" stroke="#111" stroke-width="0.65" stroke-linejoin="round">0.2</text>
<text transform="translate(40.36,780.40) scale(1.0492,1.0000)" font-family='"Liberation Sans", sans-serif' font-size="21.3" fill="#111" stroke="#111" stroke-width="0.65" stroke-linejoin="round">0.4</text>
<text transform="translate(67.10,836.40) scale(1.0532,1.0000)" font-family='"Liberation Sans", sans-serif' font-size="21.3" fill="#111" stroke="#111" stroke-width="0.65" stroke-linejoin="round">0.0</text>
<text transform="translate(221.37,837.00) scale(0.9782,1.0000)" font-family='"Liberation Sans", sans-serif' font-size="21.3" fill="#111" stroke="#111" stroke-width="0.65" stroke-linejoin="round">5.0</text>
<text transform="translate(373.59,836.40) scale(1.0106,1.0000)" font-family='"Liberation Sans", sans-serif' font-size="21.3" fill="#111" stroke="#111" stroke-width="0.65" stroke-linejoin="round">10.0</text>
<text transform="translate(255.77,858.90) scale(1.0782,1.0000)" font-family='"Liberation Sans", sans-serif' font-size="26.5" fill="#111" stroke="#111" stroke-width="0.65" stroke-linejoin="round">2</text>
<text transform="translate(270.69,858.90) scale(1.3426,1.0000)" font-family='"Liberation Serif", serif' font-size="30" fill="#111" stroke="#111" stroke-width="0.4" stroke-linejoin="round">τ</text>
<text transform="translate(298.24,858.90) scale(1.0566,1.0000)" font-family='"Liberation Sans", sans-serif' font-size="26.5" fill="#111" stroke="#111" stroke-width="0.65" stroke-linejoin="round">[</text>
<text transform="translate(305.04,858.90) scale(1.2316,1.0000)" font-family='"Liberation Serif", serif' font-size="27" fill="#111" stroke="#111" stroke-width="0.4" stroke-linejoin="round">μ</text>
<text transform="translate(321.28,858.90) scale(1.0323,1.0000)" font-family='"Liberation Sans", sans-serif' font-size="26.5" fill="#111" stroke="#111" stroke-width="0.65" stroke-linejoin="round">s</text>
<text transform="translate(335.66,858.90) scale(1.0377,1.0000)" font-family='"Liberation Sans", sans-serif' font-size="26.5" fill="#111" stroke="#111" stroke-width="0.65" stroke-linejoin="round">]</text>
<text transform="translate(25.60,787.37) rotate(-90) scale(1.0168,1.0800)" font-family='"Liberation Sans", sans-serif' font-size="27" fill="#111" stroke="#111" stroke-width="0.75" stroke-linejoin="round">Contrast [%]</text>
<text transform="translate(-0.86,606.20) scale(0.9923,1.0000)" font-family='"Liberation Sans", sans-serif' font-size="27.5" fill="#111" stroke="#111" stroke-width="0.65" stroke-linejoin="round" font-weight="bold">(c)</text>
<text transform="translate(245.83,646.70) scale(1.0234,1.0000)" font-family='"Liberation Sans", sans-serif' font-size="26.5" fill="#2aa1dc" stroke="#2aa1dc" stroke-width="0.5" stroke-linejoin="round">MW1</text>
<rect x="321.90" y="651.20" width="177.30" height="3.00" fill="#2aa1dc"/>
<rect x="321.90" y="613.80" width="12.70" height="40.40" fill="#2aa1dc"/>
<rect x="399.60" y="614.30" width="22.40" height="39.90" fill="#2aa1dc"/>
<rect x="487.20" y="613.80" width="12.00" height="40.40" fill="#2aa1dc"/>
<text transform="translate(322.97,628.30) scale(1.1444,1.0000)" font-family='"Liberation Serif", serif' font-size="19.5" fill="#0a1626" stroke="#0a1626" stroke-width="0.55" stroke-linejoin="round">π</text>
<line x1="322.50" y1="631.70" x2="334.50" y2="631.70" stroke="#0a1626" stroke-width="1.7" stroke-linecap="butt"/>
<text transform="translate(323.61,647.30) scale(1.1868,1.0000)" font-family='"Liberation Sans", sans-serif' font-size="15" fill="#0a1626" stroke="#0a1626" stroke-width="0.45" stroke-linejoin="round">2</text>
<text transform="translate(487.97,628.30) scale(1.1444,1.0000)" font-family='"Liberation Serif", serif' font-size="19.5" fill="#0a1626" stroke="#0a1626" stroke-width="0.55" stroke-linejoin="round">π</text>
<line x1="487.50" y1="631.70" x2="499.50" y2="631.70" stroke="#0a1626" stroke-width="1.7" stroke-linecap="butt"/>
<text transform="translate(488.61,647.30) scale(1.1868,1.0000)" font-family='"Liberation Sans", sans-serif' font-size="15" fill="#0a1626" stroke="#0a1626" stroke-width="0.45" stroke-linejoin="round">2</text>
<text transform="translate(404.73,638.80) scale(1.0854,1.0000)" font-family='"Liberation Serif", serif' font-size="22.5" fill="#0a1626" stroke="#0a1626" stroke-width="0.2" stroke-linejoin="round">π</text>
<line x1="353.80" y1="643.40" x2="384.90" y2="643.40" stroke="#1a1a1a" stroke-width="2.7" stroke-linecap="butt"/>
<path d="M346.8,643.4 L358.0,637.8 L355.40000000000003,643.4 L358.0,649.0 Z" fill="#1a1a1a"/>
<path d="M391.9,643.4 L380.7,637.8 L383.29999999999995,643.4 L380.7,649.0 Z" fill="#1a1a1a"/>
<line x1="438.20" y1="643.40" x2="469.50" y2="643.40" stroke="#1a1a1a" stroke-width="2.7" stroke-linecap="butt"/>
<path d="M431.2,643.4 L442.4,637.8 L439.8,643.4 L442.4,649.0 Z" fill="#1a1a1a"/>
<path d="M476.5,643.4 L465.3,637.8 L467.9,643.4 L465.3,649.0 Z" fill="#1a1a1a"/>
<text transform="translate(362.37,637.00) scale(1.2179,1.0000)" font-family='"Liberation Serif", serif' font-size="26" fill="#1a1a1a" stroke="#1a1a1a" stroke-width="0.65" stroke-linejoin="round">τ</text>
<text transform="translate(448.57,637.00) scale(1.2073,1.0000)" font-family='"Liberation Serif", serif' font-size="26" fill="#1a1a1a" stroke="#1a1a1a" stroke-width="0.65" stroke-linejoin="round">τ</text>
<text transform="translate(311.12,688.10) scale(0.8581,1.0000)" font-family='"Liberation Sans", sans-serif' font-size="21.7" fill="#111" stroke="#111" stroke-width="0.6" stroke-linejoin="round" font-style="italic">T</text>
<text transform="translate(322.67,695.50) scale(1.2454,1.0000)" font-family='"Liberation Sans", sans-serif' font-size="15" fill="#111" stroke="#111" stroke-width="0.8" stroke-linejoin="round">2</text>
<text transform="translate(338.80,688.10) scale(1.0167,1.0000)" font-family='"Liberation Sans", sans-serif' font-size="21.7" fill="#111" stroke="#111" stroke-width="1.1" stroke-linejoin="round">=</text>
<text transform="translate(356.75,688.10) scale(0.9674,1.0000)" font-family='"Liberation Sans", sans-serif' font-size="21.7" fill="#111" stroke="#111" stroke-width="0.6" stroke-linejoin="round">2.4</text>
<text transform="translate(392.73,688.10) scale(0.8746,1.0000)" font-family='"Liberation Sans", sans-serif' font-size="21.7" fill="#111" stroke="#111" stroke-width="0.8" stroke-linejoin="round">±</text>
<text transform="translate(412.20,688.10) scale(1.0377,1.0000)" font-family='"Liberation Sans", sans-serif' font-size="21.7" fill="#111" stroke="#111" stroke-width="0.6" stroke-linejoin="round">0.3</text>
<text transform="translate(448.70,688.10) scale(1.2104,1.0000)" font-family='"Liberation Serif", serif' font-size="21.7" fill="#111" stroke="#111" stroke-width="0.5" stroke-linejoin="round">μ</text>
<text transform="translate(461.91,688.10) scale(1.2183,1.0000)" font-family='"Liberation Sans", sans-serif' font-size="21.7" fill="#111" stroke="#111" stroke-width="0.6" stroke-linejoin="round">s</text>
</svg>
</body></html>
